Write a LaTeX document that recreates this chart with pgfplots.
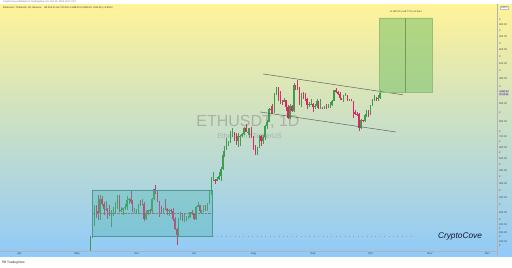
\documentclass[border=0pt]{standalone}
\usepackage{fontspec}
\setmainfont{Liberation Sans}
\usepackage{pgfplots}
\usepackage{pgfplotstable}
\pgfplotsset{compat=1.18}
\definecolor{bgtop}{RGB}{255,243,152}
\definecolor{bgbot}{RGB}{144,202,249}
\definecolor{cup}{RGB}{56,160,72}
\definecolor{cdn}{RGB}{228,32,96}
\definecolor{boxfill}{RGB}{77,182,172}
\definecolor{boxedge}{RGB}{80,150,150}
\definecolor{tgtfill}{RGB}{110,190,100}
\definecolor{tgtedge}{RGB}{150,190,120}
\definecolor{navy}{RGB}{20,24,48}

\pgfplotstableread{
d o h l c
7 1812 2215 1795 2207
8 2207 2440 2190 2346
9 2346 2595 2330 2582
10 2582 2600 2430 2513
11 2513 2740 2400 2493
12 2493 2738 2405 2680
13 2680 2725 2580 2610
14 2610 2640 2460 2545
15 2545 2650 2510 2546
16 2546 2560 2410 2475
17 2475 2590 2450 2470
18 2470 2530 2320 2525
19 2525 2575 2455 2526
20 2526 2630 2475 2550
21 2550 2735 2545 2665
22 2665 2740 2500 2525
23 2525 2575 2505 2530
24 2530 2555 2465 2550
25 2550 2605 2535 2565
26 2565 2715 2530 2660
27 2660 2690 2605 2680
28 2680 2790 2615 2630
29 2630 2665 2500 2530
30 2530 2560 2495 2531
31 2531 2545 2475 2540
32 2540 2610 2480 2605
33 2605 2660 2580 2595
34 2595 2680 2590 2610
35 2610 2640 2385 2415
36 2415 2525 2405 2480
37 2480 2530 2460 2525
38 2525 2540 2480 2510
39 2510 2690 2490 2680
40 2680 2825 2660 2815
41 2815 2880 2745 2770
42 2770 2790 2630 2645
43 2645 2645 2440 2580
44 2580 2585 2490 2525
45 2525 2560 2490 2545
46 2545 2680 2535 2544
47 2544 2560 2460 2510
48 2510 2545 2455 2525
49 2525 2540 2490 2520
50 2520 2555 2390 2410
51 2410 2440 2280 2295
52 2295 2300 2110 2225
53 2225 2420 2215 2405
54 2405 2500 2400 2455
55 2455 2490 2385 2420
56 2420 2485 2380 2421
57 2421 2450 2385 2425
58 2425 2445 2410 2435
59 2435 2505 2425 2500
60 2500 2525 2460 2485
61 2485 2495 2395 2410
62 2410 2580 2400 2570
63 2570 2635 2565 2590
64 2590 2595 2490 2510
65 2510 2530 2495 2515
66 2515 2595 2505 2570
67 2570 2590 2515 2545
68 2545 2625 2520 2615
69 2615 2790 2605 2770
70 2770 2995 2735 2955
71 2955 3075 2935 2960
72 2960 2970 2900 2945
73 2945 3000 2935 2970
74 2970 3080 2960 3015
75 3015 3160 2945 3130
76 3130 3430 3115 3370
77 3370 3520 3335 3475
78 3475 3680 3450 3545
79 3545 3620 3520 3590
80 3590 3815 3580 3755
81 3755 3860 3685 3760
82 3760 3785 3610 3740
83 3740 3765 3545 3625
84 3625 3760 3505 3705
85 3705 3735 3515 3715
86 3715 3775 3700 3745
87 3745 3885 3725 3875
88 3875 3940 3785 3795
89 3795 3860 3730 3796
90 3796 3860 3680 3810
91 3810 3890 3680 3700
92 3700 3720 3450 3485
93 3485 3545 3355 3400
94 3400 3505 3370 3495
95 3495 3735 3485 3715
96 3715 3730 3525 3610
97 3610 3725 3565 3685
98 3685 3925 3630 3910
99 3910 4030 3850 3990
100 3990 4300 3985 4260
101 4260 4330 4160 4250
102 4250 4370 4155 4220
103 4220 4640 4190 4630
104 4630 4785 4600 4750
105 4750 4790 4455 4550
106 4550 4680 4375 4440
107 4440 4480 4360 4430
108 4430 4525 4420 4475
109 4475 4480 4225 4315
110 4315 4365 4060 4075
111 4075 4380 4060 4340
112 4340 4350 4200 4225
113 4225 4885 4205 4830
114 4830 4835 4720 4780
115 4780 4956 4705 4779
116 4779 4785 4355 4375
117 4375 4640 4310 4600
118 4600 4660 4490 4510
119 4510 4640 4455 4505
120 4505 4530 4270 4365
121 4365 4415 4315 4370
122 4370 4495 4360 4390
123 4390 4395 4210 4310
124 4310 4380 4265 4325
125 4325 4485 4295 4450
126 4450 4460 4260 4300
127 4300 4490 4265 4301
128 4301 4310 4265 4275
129 4275 4335 4260 4310
130 4310 4380 4270 4305
131 4305 4385 4280 4306
132 4306 4420 4300 4350
133 4350 4480 4340 4460
134 4460 4720 4450 4710
135 4710 4770 4640 4665
136 4665 4680 4595 4605
137 4605 4660 4480 4520
138 4520 4530 4470 4500
139 4500 4600 4420 4590
140 4590 4640 4560 4591
141 4591 4600 4455 4465
142 4465 4505 4455 4480
143 4480 4490 4440 4450
144 4450 4455 4080 4200
145 4200 4235 4140 4165
146 4165 4205 4110 4150
147 4150 4170 3815 3870
148 3870 4060 3850 4030
149 4030 4040 3985 4010
150 4010 4150 4000 4145
151 4145 4235 4095 4215
152 4215 4245 4105 4145
153 4145 4365 4130 4350
154 4350 4505 4345 4485
155 4485 4590 4455 4515
156 4515 4535 4445 4490
157 4490 4590 4455 4515
158 4515 4700 4490 4680
}\eth

\begin{document}
\begin{tikzpicture}[x=1pt,y=1pt]
\useasboundingbox (0,0) rectangle (512,268);
\fill[white] (0,0) rectangle (512,268);
\shade[top color=bgtop, bottom color=bgbot] (0,11.5) rectangle (512,263.5);
% watermark
\node[text=black!45, opacity=0.55, font=\fontsize{16}{18}\selectfont] at (248,146) {ETHUSDT, 1D};
\node[text=black!45, opacity=0.55, font=\fontsize{6.9}{8}\selectfont] at (249.5,131.5) {Ethereum / TetherUS};
\begin{axis}[
  at={(0pt,17pt)}, anchor=south west, scale only axis,
  width=497pt, height=246.5pt,
  xmin=-40.15, xmax=218.98,
  ymode=log, ymin=2045, ymax=7336,
  axis x line*=bottom, axis y line*=right,
  axis line style={draw=black!30, line width=0.4pt},
  tick align=outside, major tick length=1pt,
  yminorticks=false, xminorticks=false,
  xtick={-30,0,31,61,92,123,153,184,214},
  xticklabels={Apr,May,Jun,Jul,Aug,Sep,Oct,Nov,Dec},
  x tick style={draw=none},
  xticklabel style={font=\fontsize{2.8}{3}\selectfont, text=black!75, inner sep=0.6pt},
  ytick={2100,2150,2200,2250,2300,2350,2400,2500,2600,2700,2800,2900,3000,3100,3200,3300,3400,3500,3600,3700,3800,4000,4200,4400,4800,5000,5200,5400,5600,5800,6000,6200,6400,6600,6800},
  yticklabels={2,100.00,2,150.00,2,200.00,2,250.00,2,300.00,2,350.00,2,400.00,2,500.00,2,600.00,2,700.00,2,800.00,2,900.00,3,000.00,3,100.00,3,200.00,3,300.00,3,400.00,3,500.00,3,600.00,3,700.00,3,800.00,4,000.00,4,200.00,4,400.00,4,800.00,5,000.00,5,200.00,5,400.00,5,600.00,5,800.00,6,000.00,6,200.00,6,400.00,6,600.00,6,800.00},
  yticklabel style={font=\fontsize{2.6}{3}\selectfont, text=black!75, inner sep=0.8pt},
  y tick style={draw=black!40, line width=0.3pt},
  /pgf/number format/assume math mode=true,
  candle/.style={forget plot, draw=none, mark=none, fill=none},
]
% wicks
\addplot[candle,
  restrict expr to domain={\thisrow{c}-\thisrow{o}}{0:100000},
  error bars/.cd, y dir=plus, y explicit, error mark=none,
  error bar style={draw=cup!70!gray, line width=0.4pt}]
  table[x=d, y=l, y error expr=\thisrow{h}-\thisrow{l}] {\eth};
\addplot[candle,
  restrict expr to domain={\thisrow{o}-\thisrow{c}}{0.5:100000},
  error bars/.cd, y dir=plus, y explicit, error mark=none,
  error bar style={draw=cdn!70!gray, line width=0.4pt}]
  table[x=d, y=l, y error expr=\thisrow{h}-\thisrow{l}] {\eth};
% bodies
\addplot[candle,
  restrict expr to domain={\thisrow{c}-\thisrow{o}}{0:100000},
  error bars/.cd, y dir=plus, y explicit, error mark=none,
  error bar style={draw=cup, line width=1.35pt}]
  table[x=d, y=o, y error expr=\thisrow{c}-\thisrow{o}] {\eth};
\addplot[candle,
  restrict expr to domain={\thisrow{o}-\thisrow{c}}{0.5:100000},
  error bars/.cd, y dir=plus, y explicit, error mark=none,
  error bar style={draw=cdn, line width=1.35pt}]
  table[x=d, y=c, y error expr=\thisrow{o}-\thisrow{c}] {\eth};
% consolidation box
\addplot[fill=boxfill, fill opacity=0.35, draw=boxedge, line width=0.5pt]
  coordinates {(8.2,2203) (70.7,2203) (70.7,2806) (8.2,2806) (8.2,2203)};
\addplot[densely dotted, draw=black!50, line width=0.4pt]
  coordinates {(8.2,2486) (70.7,2486)};
\addplot[loosely dotted, draw=black!40, line width=0.4pt]
  coordinates {(70.7,2203) (175,2203)};
% channel
\addplot[draw=black!65, line width=0.45pt] coordinates {(97.0,5118) (170.0,4593)};
\addplot[draw=black!65, line width=0.45pt] coordinates {(95.4,4203) (166.3,3789)};
% target box
\addplot[fill=tgtfill, fill opacity=0.5, draw=tgtedge, line width=0.4pt]
  coordinates {(157.5,4661) (185.1,4661) (185.1,6841) (157.5,6841) (157.5,4661)};
\addplot[draw=tgtedge!80!black, line width=0.35pt] coordinates {(171.3,4661) (171.3,6841)};
\node[font=\fontsize{2.5}{3}\selectfont, text=black!75] at (axis cs:171.3,7060) {+2,180.00 (+46.77\%) 14 bars};
\end{axis}
% separators
\draw[black!30, line width=0.4pt] (497,11.5) -- (497,263.5);
% header
\node[anchor=west, font=\fontsize{2.4}{3}\selectfont, text=black!55, inner sep=0] at (3,266) {CryptoCove published on TradingView.com, Oct 06, 2025 12:27 UTC};
\node[anchor=west, font=\fontsize{2.5}{3}\selectfont, text=black!80, inner sep=0] at (3,260) {Ethereum / TetherUS, 1D, Binance\quad O4,515.41 H4,700.00 L4,488.20 C4,680.22 +164.81 (+3.65\%)};
% price column extras
\node[fill=white, draw=black!25, line width=0.3pt, font=\fontsize{2.4}{3}\selectfont, text=black!70, inner sep=0.8pt] at (504.5,260) {USDT};
\node[fill=black!20, font=\fontsize{2.4}{2.7}\selectfont, text=black!85, inner sep=0.6pt, align=left, anchor=north west] at (498.5,177.8) {4,680.22\\11:32:41};
% signature
\node[font=\itshape\fontsize{8.3}{10}\selectfont, text=navy] at (460,32) {CryptoCove};
% logo
\node[anchor=west, font=\fontsize{3.2}{4}\selectfont, text=black!85, inner sep=0] at (2,5) {\textbf{TV} TradingView};
\end{tikzpicture}
\end{document}
